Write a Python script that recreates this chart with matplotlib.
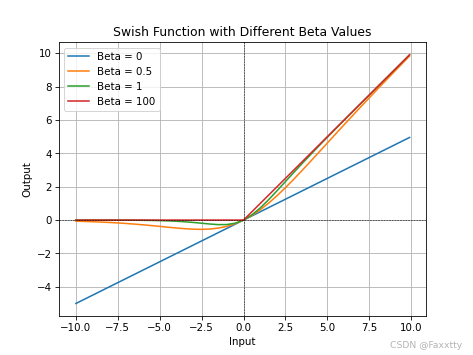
import numpy as np
import matplotlib.pyplot as plt

# sample points along the input axis
x_vals = [-10, -9.5, -9, -8.5, -8, -7.5, -7, -6.5, -6, -5.5, -5, -4.5, -4, -3.5, -3,
          -2.5, -2, -1.5, -1, -0.5, 0, 0.5, 1, 1.5, 2, 2.5, 3, 3.5, 4, 4.5, 5,
          5.5, 6, 6.5, 7, 7.5, 8, 8.5, 9, 9.5, 9.9]

beta_labels = ['Beta = 0', 'Beta = 0.5', 'Beta = 1', 'Beta = 100']

y_beta0 = [-5.0, -4.75, -4.5, -4.25, -4.0, -3.75, -3.5, -3.25, -3.0, -2.75, -2.5,
           -2.25, -2.0, -1.75, -1.5, -1.25, -1.0, -0.75, -0.5, -0.25, 0.0, 0.25,
           0.5, 0.75, 1.0, 1.25, 1.5, 1.75, 2.0, 2.25, 2.5, 2.75, 3.0, 3.25, 3.5,
           3.75, 4.0, 4.25, 4.5, 4.75, 4.95]

y_beta05 = [-0.067, -0.082, -0.099, -0.120, -0.144, -0.172, -0.205, -0.243, -0.285,
            -0.331, -0.379, -0.429, -0.477, -0.518, -0.547, -0.557, -0.538, -0.481,
            -0.378, -0.219, 0.0, 0.281, 0.622, 1.019, 1.462, 1.943, 2.453, 2.982,
            3.523, 4.071, 4.621, 5.170, 5.715, 6.257, 6.795, 7.328, 7.856, 8.381,
            8.901, 9.419, 9.830]

y_beta1 = [-0.0005, -0.0007, -0.0011, -0.0017, -0.0027, -0.0041, -0.0064, -0.0098,
           -0.0148, -0.0224, -0.0335, -0.0494, -0.0719, -0.1026, -0.1423, -0.1896,
           -0.2384, -0.2736, -0.2689, -0.1888, 0.0, 0.311, 0.731, 1.226, 1.762,
           2.310, 2.858, 3.397, 3.928, 4.451, 4.967, 5.478, 5.985, 6.490, 6.994,
           7.496, 7.997, 8.498, 8.999, 9.499, 9.900]

y_beta100 = [0.0] * 21 + [0.5, 1.0, 1.5, 2.0, 2.5, 3.0, 3.5, 4.0, 4.5, 5.0, 5.5,
                          6.0, 6.5, 7.0, 7.5, 8.0, 8.5, 9.0, 9.5, 9.9]

fig, ax = plt.subplots(figsize=(6.4, 4.8), dpi=74)

for lab, ys in zip(beta_labels, [y_beta0, y_beta05, y_beta1, y_beta100]):
    ax.plot(x_vals, ys, label=lab)

ax.axhline(0, color='black', linewidth=0.5, linestyle='--')
ax.axvline(0, color='black', linewidth=0.5, linestyle='--')

ax.set_title('Swish Function with Different Beta Values')
ax.set_xlabel('Input')
ax.set_ylabel('Output')
ax.grid(True)
ax.legend(loc='upper left')

# watermark in the corner
fig.text(0.975, 0.015, 'CSDN @Faxxtty', ha='right', va='bottom',
         fontsize=9, color='#b4b4b4')

plt.savefig('out.png', dpi=74)
